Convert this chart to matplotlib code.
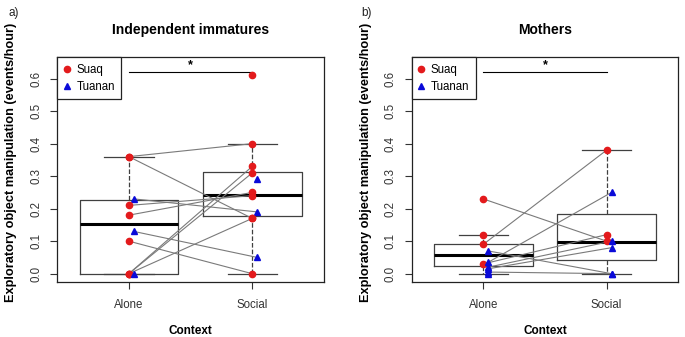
import numpy as np
import matplotlib
matplotlib.use('Agg')
import matplotlib.pyplot as plt
from matplotlib.lines import Line2D

plt.rcParams['font.family'] = ['Liberation Sans', 'DejaVu Sans']

contexts = ['Alone', 'Social']
site_colors = {'Suaq': '#e31a1c', 'Tuanan': '#0a0ad8'}
site_markers = {'Suaq': 'o', 'Tuanan': '^'}

# Independent immatures: one entry per individual (nan = no value in that context)
imm_site = ['Suaq', 'Suaq', 'Tuanan', 'Suaq', 'Suaq', 'Tuanan', 'Suaq',
            'Suaq', 'Suaq', 'Suaq', 'Tuanan', 'Suaq', 'Tuanan']
imm_alone = [0.36, 0.36, 0.23, 0.21, 0.18, 0.13, 0.10,
             0.0, 0.0, 0.0, 0.0, np.nan, np.nan]
imm_social = [0.40, 0.17, 0.19, 0.24, 0.25, 0.05, 0.0,
              0.33, 0.31, 0.17, np.nan, 0.61, 0.29]
# box statistics (Alone, Social)
imm_lo = [0.0, 0.0]
imm_q1 = [0.0, 0.177]
imm_med = [0.152, 0.241]
imm_q3 = [0.226, 0.314]
imm_hi = [0.36, 0.40]

# Mothers
mom_site = ['Suaq', 'Suaq', 'Suaq', 'Tuanan', 'Suaq', 'Tuanan',
            'Tuanan', 'Tuanan', 'Tuanan', 'Tuanan']
mom_alone = [0.23, 0.12, 0.09, 0.07, 0.03, 0.035, 0.02, 0.015, 0.005, 0.0]
mom_social = [0.10, np.nan, 0.38, 0.0, 0.12, 0.25, 0.10, 0.08, 0.0, np.nan]
mom_lo = [0.0, 0.0]
mom_q1 = [0.024, 0.041]
mom_med = [0.058, 0.098]
mom_q3 = [0.091, 0.185]
mom_hi = [0.12, 0.38]


def draw_panel(ax, site, alone, social, lo, q1, med, q3, hi, title):
    stats = []
    for i in range(2):
        stats.append({'whislo': lo[i], 'q1': q1[i], 'med': med[i],
                      'q3': q3[i], 'whishi': hi[i], 'fliers': []})
    ax.bxp(stats, positions=[1, 2], widths=0.8, capwidths=0.4,
           showfliers=False,
           boxprops=dict(color='#404040', lw=0.9),
           whiskerprops=dict(color='#404040', lw=0.9, ls='--'),
           capprops=dict(color='#404040', lw=0.9),
           medianprops=dict(color='black', lw=2.2))

    for s, a, b in zip(site, alone, social):
        dx = 0.04 if s == 'Tuanan' else 0.0
        if not (np.isnan(a) or np.isnan(b)):
            ax.plot([1 + dx, 2 + dx], [a, b], color='#7a7a7a', lw=0.8, zorder=3)
        for x, v in ((1 + dx, a), (2 + dx, b)):
            if not np.isnan(v):
                ax.plot(x, v, marker=site_markers[s], color=site_colors[s],
                        ms=4.5, ls='none', zorder=4)

    # significance bar
    ax.plot([1, 2], [0.62, 0.62], color='black', lw=0.8)
    ax.text(1.5, 0.622, '*', ha='center', va='bottom', fontsize=9, fontweight='bold')

    ax.set_xlim(0.42, 2.58)
    ax.set_ylim(-0.0256, 0.6656)
    ax.set_xticks([1, 2])
    ax.set_xticklabels(contexts)
    ax.set_yticks(np.arange(0, 0.61, 0.1))
    ax.set_yticklabels(['%.1f' % v for v in np.arange(0, 0.61, 0.1)],
                       rotation=90, va='center')
    ax.tick_params(length=5, width=0.8, color='#333333', labelcolor='#333333',
                   labelsize=8.3)
    ax.tick_params(axis='x', pad=7)
    ax.tick_params(axis='y', pad=6)
    for sp in ax.spines.values():
        sp.set_linewidth(0.9)
        sp.set_color('#222222')
    ax.text(0.5, (282 - 331) / 224.7, 'Context', transform=ax.transAxes,
            ha='center', va='center', fontsize=8.5, fontweight='bold')
    ax.text(0.5, 1.0 + 27 / 224.7, title, transform=ax.transAxes,
            ha='center', va='center', fontsize=10, fontweight='bold')

    handles = [Line2D([], [], marker=site_markers[k], color=site_colors[k],
                      ls='none', ms=4.5) for k in ['Suaq', 'Tuanan']]
    leg = ax.legend(handles, ['Suaq', 'Tuanan'], loc='upper left',
                    bbox_to_anchor=(0, 1), borderaxespad=0, fancybox=False,
                    edgecolor='#222222', framealpha=1, fontsize=8.3,
                    handlelength=0.6, handletextpad=0.5, borderpad=0.55,
                    labelspacing=0.45)
    leg.get_frame().set_linewidth(0.9)
    return ax


fig = plt.figure(figsize=(6.85, 3.37), dpi=100)
ax1 = fig.add_axes([0.0837, 0.1632, 0.389, 0.6668])
ax2 = fig.add_axes([0.601, 0.1632, 0.389, 0.6668])

draw_panel(ax1, imm_site, imm_alone, imm_social, imm_lo, imm_q1, imm_med,
           imm_q3, imm_hi, 'Independent immatures')
draw_panel(ax2, mom_site, mom_alone, mom_social, mom_lo, mom_q1, mom_med,
           mom_q3, mom_hi, 'Mothers')

ylab = 'Exploratory object manipulation (events/hour)'
for xpix in (11, 366):
    fig.text(xpix / 685, 0.519, ylab, rotation=90, ha='center', va='center',
             fontsize=9.2, fontweight='bold')

fig.text(0.012, 0.962, 'a)', fontsize=8.5, va='center', color='#222222')
fig.text(0.527, 0.962, 'b)', fontsize=8.5, va='center', color='#222222')

fig.savefig('out.png', dpi=100)
